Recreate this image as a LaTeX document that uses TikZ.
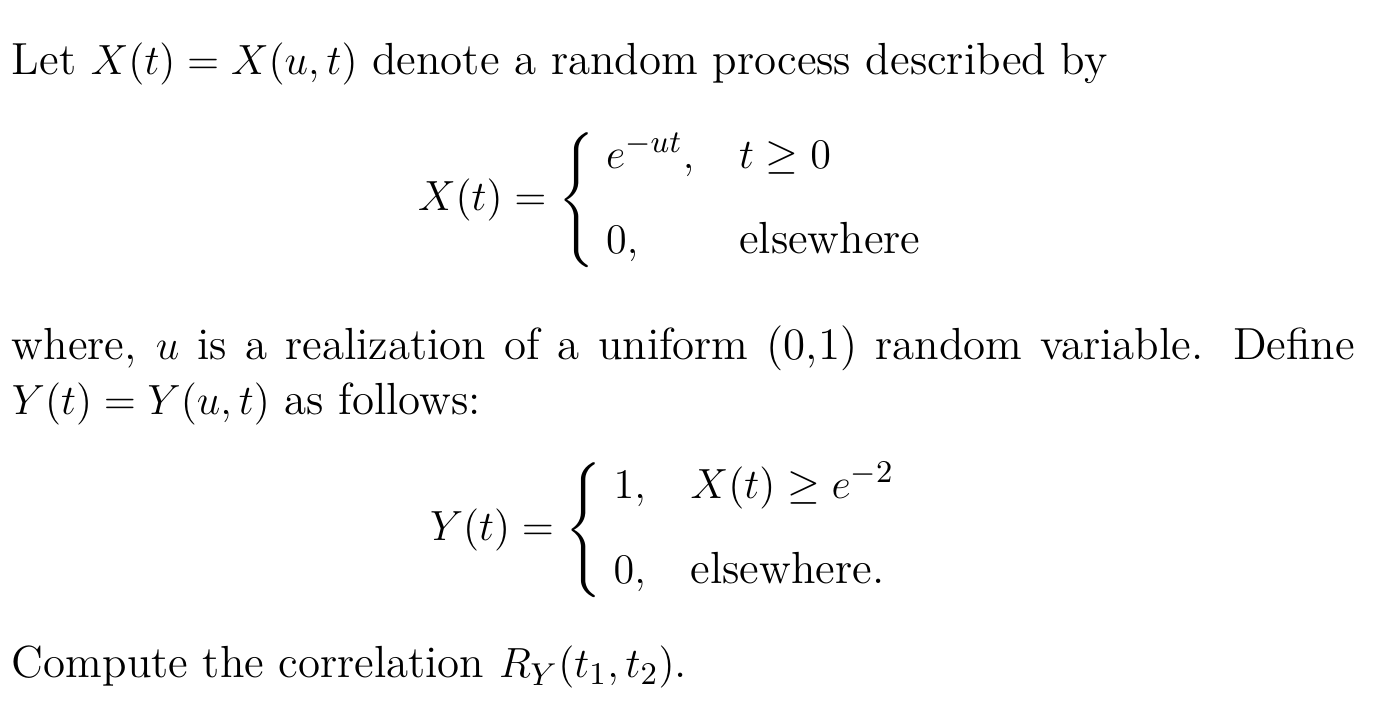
\documentclass[tikz,border=0pt]{standalone}
\usepackage{amsmath,amssymb}
\begin{document}
\begin{tikzpicture}[x=1cm,y=1cm,every node/.style={inner sep=0pt,outer sep=0pt,font=\fontsize{12.8pt}{15.6pt}\selectfont}]
\useasboundingbox (0,0) rectangle (13.75,7.17);
\node[anchor=base west] (l1) at (0.12,6.42) {Let $X(t)=X(u,t)$ denote a random process described by};
\node[anchor=west] (e1) at (4.18,5.17) {$X(t)=\left\{\begin{array}{@{\;}l@{\quad}l}e^{-ut}, & t\ge 0\\[1.6ex] 0, & \text{elsewhere}\end{array}\right.$};
\node[anchor=base west,text width=13.43cm,align=justify] (l2) at (0.12,3.57) {where, $u$ is a realization of a uniform (0,1) random variable. Define $Y(t)=Y(u,t)$ as follows:};
\node[anchor=west] (e2) at (4.30,1.87) {$Y(t)=\left\{\begin{array}{@{\;}l@{\quad}l}1, & X(t)\ge e^{-2}\\[1.6ex] 0, & \text{elsewhere.}\end{array}\right.$};
\node[anchor=base west] (l3) at (0.12,0.39) {Compute the correlation $R_Y(t_1,t_2)$.};
\end{tikzpicture}
\end{document}
